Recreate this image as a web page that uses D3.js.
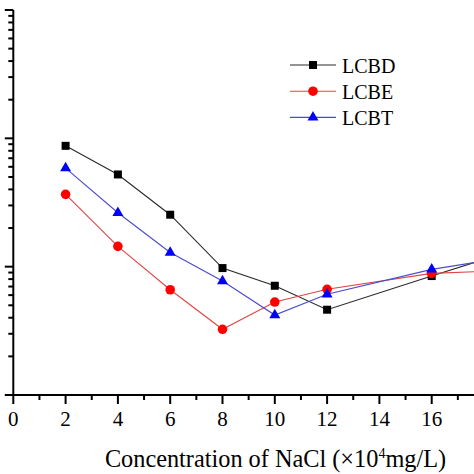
<!DOCTYPE html>
<html>
<head>
<meta charset="utf-8">
<script src="https://cdn.jsdelivr.net/npm/d3@7"></script>
<style>
  body { margin: 0; background: #fff; }
  text { font-family: "Liberation Serif", "Times New Roman", serif; fill: #000; }
</style>
</head>
<body>
<div id="chart"></div>
<script>
// Données (axe Y logarithmique)
const concentrations = [2, 4, 6, 8, 10, 12, 16, 18];
const lcbd = [8.74, 5.23, 2.54, 0.975, 0.71, 0.462, 0.845, 1.14];
const lcbe = [3.66, 1.44, 0.661, 0.325, 0.53, 0.666, 0.887, 0.919];
const lcbt = [5.86, 2.63, 1.29, 0.773, 0.42, 0.609, 0.953, 1.106];
const xTickLabels = [0, 2, 4, 6, 8, 10, 12, 14, 16];
const seriesNames = ["LCBD", "LCBE", "LCBT"];

(function() {
    const width = 474;
    const height = 474;

    const series = [
        { name: seriesNames[0], values: lcbd, line: "#2a2a2a", fill: "#000000", symbol: d3.symbolSquare, size: 64 },
        { name: seriesNames[1], values: lcbe, line: "#e04545", fill: "#ff0000", symbol: d3.symbolCircle, size: 72 },
        { name: seriesNames[2], values: lcbt, line: "#4a4ad0", fill: "#0000ff", symbol: d3.symbolTriangle, size: 52 }
    ];

    // Échelles
    const x = d3.scaleLinear().domain([0, 18]).range([13.3, 13.3 + 18 * 26.15]);
    const y = d3.scaleLog().domain([0.1, 100]).range([395, 10]);

    const svg = d3.select("#chart")
        .append("svg")
        .attr("width", width)
        .attr("height", height);

    // Axe X
    const xAxis = svg.append("g")
        .attr("transform", `translate(0,${y(0.1)})`);

    xAxis.append("line")
        .attr("x1", x(0)).attr("x2", width + 10)
        .attr("stroke", "#000").attr("stroke-width", 2);

    const xMinor = d3.range(1, 18, 2);
    xAxis.selectAll(".xminor")
        .data(xMinor)
        .join("line")
        .attr("x1", d => x(d)).attr("x2", d => x(d))
        .attr("y1", 0).attr("y2", 5)
        .attr("stroke", "#000").attr("stroke-width", 2);

    xAxis.selectAll(".xmajor")
        .data(xTickLabels)
        .join("line")
        .attr("x1", d => x(d)).attr("x2", d => x(d))
        .attr("y1", 0).attr("y2", 9)
        .attr("stroke", "#000").attr("stroke-width", 2);

    xAxis.selectAll(".xlabel")
        .data(xTickLabels)
        .join("text")
        .attr("x", d => x(d))
        .attr("y", 31)
        .attr("text-anchor", "middle")
        .style("font-size", "21px")
        .text(d => d);

    // Titre de l'axe X
    const title = svg.append("text")
        .attr("x", 275.5)
        .attr("y", 467)
        .attr("text-anchor", "middle")
        .style("font-size", "24.3px");
    title.append("tspan").text("Concentration of NaCl (×10");
    title.append("tspan").attr("dy", -9).style("font-size", "14px").text("4");
    title.append("tspan").attr("dy", 9).text("mg/L)");

    // Axe Y (log, sans étiquettes visibles)
    const yAxis = svg.append("g");
    yAxis.append("line")
        .attr("x1", x(0)).attr("x2", x(0))
        .attr("y1", y(100)).attr("y2", y(0.1))
        .attr("stroke", "#000").attr("stroke-width", 2);

    const decades = [0.1, 1, 10, 100];
    const minors = [];
    decades.slice(0, 3).forEach(dec => {
        for (let k = 2; k <= 9; k++) minors.push(dec * k);
    });

    yAxis.selectAll(".yminor")
        .data(minors)
        .join("line")
        .attr("x1", x(0) - 5).attr("x2", x(0))
        .attr("y1", d => y(d)).attr("y2", d => y(d))
        .attr("stroke", "#000").attr("stroke-width", 2);

    yAxis.selectAll(".ymajor")
        .data(decades)
        .join("line")
        .attr("x1", x(0) - 8.5).attr("x2", x(0))
        .attr("y1", d => y(d)).attr("y2", d => y(d))
        .attr("stroke", "#000").attr("stroke-width", 2);

    // Courbes
    const line = d3.line()
        .x((d, i) => x(concentrations[i]))
        .y(d => y(d));

    series.forEach(s => {
        const g = svg.append("g");
        g.append("path")
            .datum(s.values)
            .attr("fill", "none")
            .attr("stroke", s.line)
            .attr("stroke-width", 1.1)
            .attr("d", line);

        g.selectAll("path.marker")
            .data(s.values)
            .join("path")
            .attr("class", "marker")
            .attr("transform", (d, i) => `translate(${x(concentrations[i])},${y(d)})`)
            .attr("d", d3.symbol().type(s.symbol).size(s.size))
            .attr("fill", s.fill);
    });

    // Légende
    const legend = svg.append("g");
    series.forEach((s, i) => {
        const ly = 65 + i * 26.2;
        legend.append("line")
            .attr("x1", 290).attr("x2", 336)
            .attr("y1", ly).attr("y2", ly)
            .attr("stroke", s.line).attr("stroke-width", 1.1);
        legend.append("path")
            .attr("transform", `translate(313,${ly})`)
            .attr("d", d3.symbol().type(s.symbol).size(s.size))
            .attr("fill", s.fill);
        legend.append("text")
            .attr("x", 342)
            .attr("y", ly + 7.5)
            .style("font-size", "20px")
            .text(s.name);
    });
})();
</script>
</body>
</html>
